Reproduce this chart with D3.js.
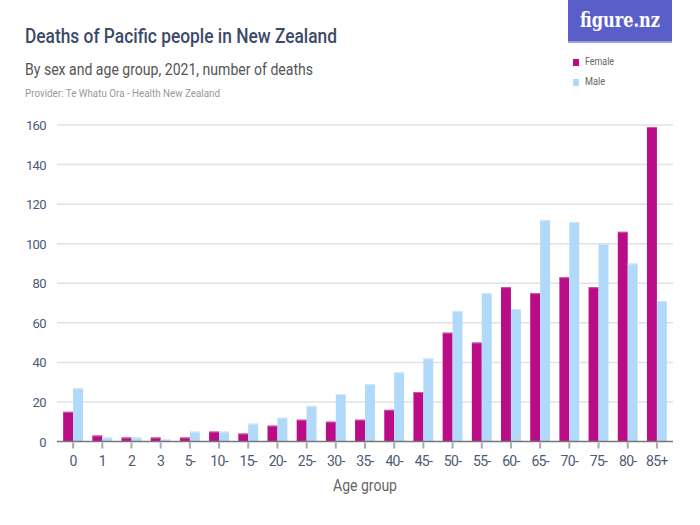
<!DOCTYPE html>
<html lang="en">
<head>
<meta charset="utf-8">
<title>Deaths of Pacific people in New Zealand</title>
<script src="https://cdn.jsdelivr.net/npm/d3@7"></script>
<style>
    body {margin: 0; background: #fff;}
    svg text {font-family: Roboto, "Noto Sans", sans-serif;}
</style>
</head>
<body>
<script>
    // data
    const ageGroups = ["0", "1", "2", "3", "5-", "10-", "15-", "20-", "25-", "30-", "35-", "40-",
                       "45-", "50-", "55-", "60-", "65-", "70-", "75-", "80-", "85+"];
    const female = [15, 3, 2, 2, 2, 5, 4, 8, 11, 10, 11, 16, 25, 55, 50, 78, 75, 83, 78, 106, 159];
    const male   = [27, 2, 2, 1, 5, 5, 9, 12, 18, 24, 29, 35, 42, 66, 75, 67, 112, 111, 100, 90, 71];
    const series = ["Female", "Male"];
    const yTicks = [0, 20, 40, 60, 80, 100, 120, 140, 160];

    const W = 700, H = 525;
    const plot = {left: 57, right: 673, top: 125, bottom: 441.5};
    const colors = {Female: "#ba0c86", Male: "#b0d9fa"};
    const tops = {Female: "#cc5aa6", Male: "#d2e9fc"};

    const svg = d3.select("body").append("svg")
        .attr("width", W).attr("height", H);

    const x = d3.scaleBand().domain(ageGroups)
        .range([plot.left + 1.5, plot.right - 1.5]).paddingInner(0.32).paddingOuter(0.16);
    const xs = d3.scaleBand().domain(series).range([0, x.bandwidth()]);
    const y = d3.scaleLinear().domain([0, 160]).range([plot.bottom, plot.top]);

    // the source font is a narrow grotesque, so squeeze the text to its widths
    function squeeze(sel, len) {
        return sel.attr("textLength", len).attr("lengthAdjust", "spacingAndGlyphs");
    }

    // header
    svg.append("text").attr("x", 25).attr("y", 43)
        .attr("fill", "#3b4a68").attr("font-size", 20).attr("font-weight", 500)
        .text("Deaths of Pacific people in New Zealand").call(squeeze, 312);
    svg.append("text").attr("x", 25).attr("y", 75)
        .attr("fill", "#555").attr("font-size", 16)
        .text("By sex and age group, 2021, number of deaths").call(squeeze, 288);
    svg.append("text").attr("x", 25).attr("y", 97)
        .attr("fill", "#999").attr("font-size", 10)
        .text("Provider: Te Whatu Ora - Health New Zealand").call(squeeze, 195);

    // logo
    svg.append("rect").attr("x", 568).attr("y", 0).attr("width", 104).attr("height", 42)
        .attr("fill", "#5a5ec9");
    svg.append("rect").attr("x", 568).attr("y", 41).attr("width", 104).attr("height", 2)
        .attr("fill", "#9da0e0");
    svg.append("text").attr("x", 580).attr("y", 27)
        .attr("fill", "#fff").attr("font-size", 20).attr("font-weight", "bold")
        .style("font-family", "'DejaVu Serif', serif")
        .text("figure.nz").call(squeeze, 80);

    // legend
    const legend = svg.append("g").selectAll("g").data(series).join("g")
        .attr("transform", (d, i) => `translate(573, ${57 + i * 20})`);
    legend.append("rect").attr("y", 2).attr("width", 6).attr("height", 7)
        .attr("fill", d => colors[d]);
    legend.append("text").attr("x", 12).attr("y", 8)
        .attr("fill", "#666").attr("font-size", 10).text(d => d)
        .each(function (d) { squeeze(d3.select(this), d === "Female" ? 29 : 20); });

    // grid + y labels
    svg.append("g").selectAll("line").data(yTicks.slice(1)).join("line")
        .attr("x1", plot.left).attr("x2", plot.right)
        .attr("y1", d => y(d)).attr("y2", d => y(d))
        .attr("stroke", "#e2e2e2").attr("stroke-width", 1.5);
    svg.append("g").selectAll("text").data(yTicks).join("text")
        .attr("x", 46).attr("y", d => y(d) + 5).attr("text-anchor", "end")
        .attr("fill", "#4b5a78").attr("font-size", 13).attr("letter-spacing", -0.6)
        .text(d => d);

    // bars
    const groups = svg.append("g").selectAll("g").data(ageGroups).join("g")
        .attr("transform", d => `translate(${x(d)},0)`);
    series.forEach((s, k) => {
        const vals = k === 0 ? female : male;
        groups.append("rect")
            .attr("x", xs(s)).attr("width", xs.bandwidth())
            .attr("y", (d, i) => y(vals[i]))
            .attr("height", (d, i) => y(0) - y(vals[i]))
            .attr("fill", colors[s]);
        groups.append("rect")
            .attr("x", xs(s)).attr("width", xs.bandwidth())
            .attr("y", (d, i) => y(vals[i]))
            .attr("height", (d, i) => Math.min(1, y(0) - y(vals[i])))
            .attr("fill", tops[s]);
    });

    // x axis
    svg.append("line").attr("x1", plot.left).attr("x2", plot.right)
        .attr("y1", plot.bottom).attr("y2", plot.bottom)
        .attr("stroke", "#777").attr("stroke-width", 1.5);
    const xt = svg.append("g").selectAll("g").data(ageGroups).join("g")
        .attr("transform", d => `translate(${x(d) + x.bandwidth() / 2},${plot.bottom})`);
    xt.append("line").attr("y1", 1).attr("y2", 7).attr("stroke", "#aaa").attr("stroke-width", 2);
    xt.append("text").attr("y", 24).attr("text-anchor", "middle")
        .attr("fill", "#4b5a78").attr("font-size", 14).attr("letter-spacing", -0.7)
        .text(d => d);

    svg.append("text").attr("x", (plot.left + plot.right) / 2).attr("y", 491)
        .attr("text-anchor", "middle").attr("fill", "#666").attr("font-size", 16)
        .text("Age group").call(squeeze, 64);
</script>
</body>
</html>
